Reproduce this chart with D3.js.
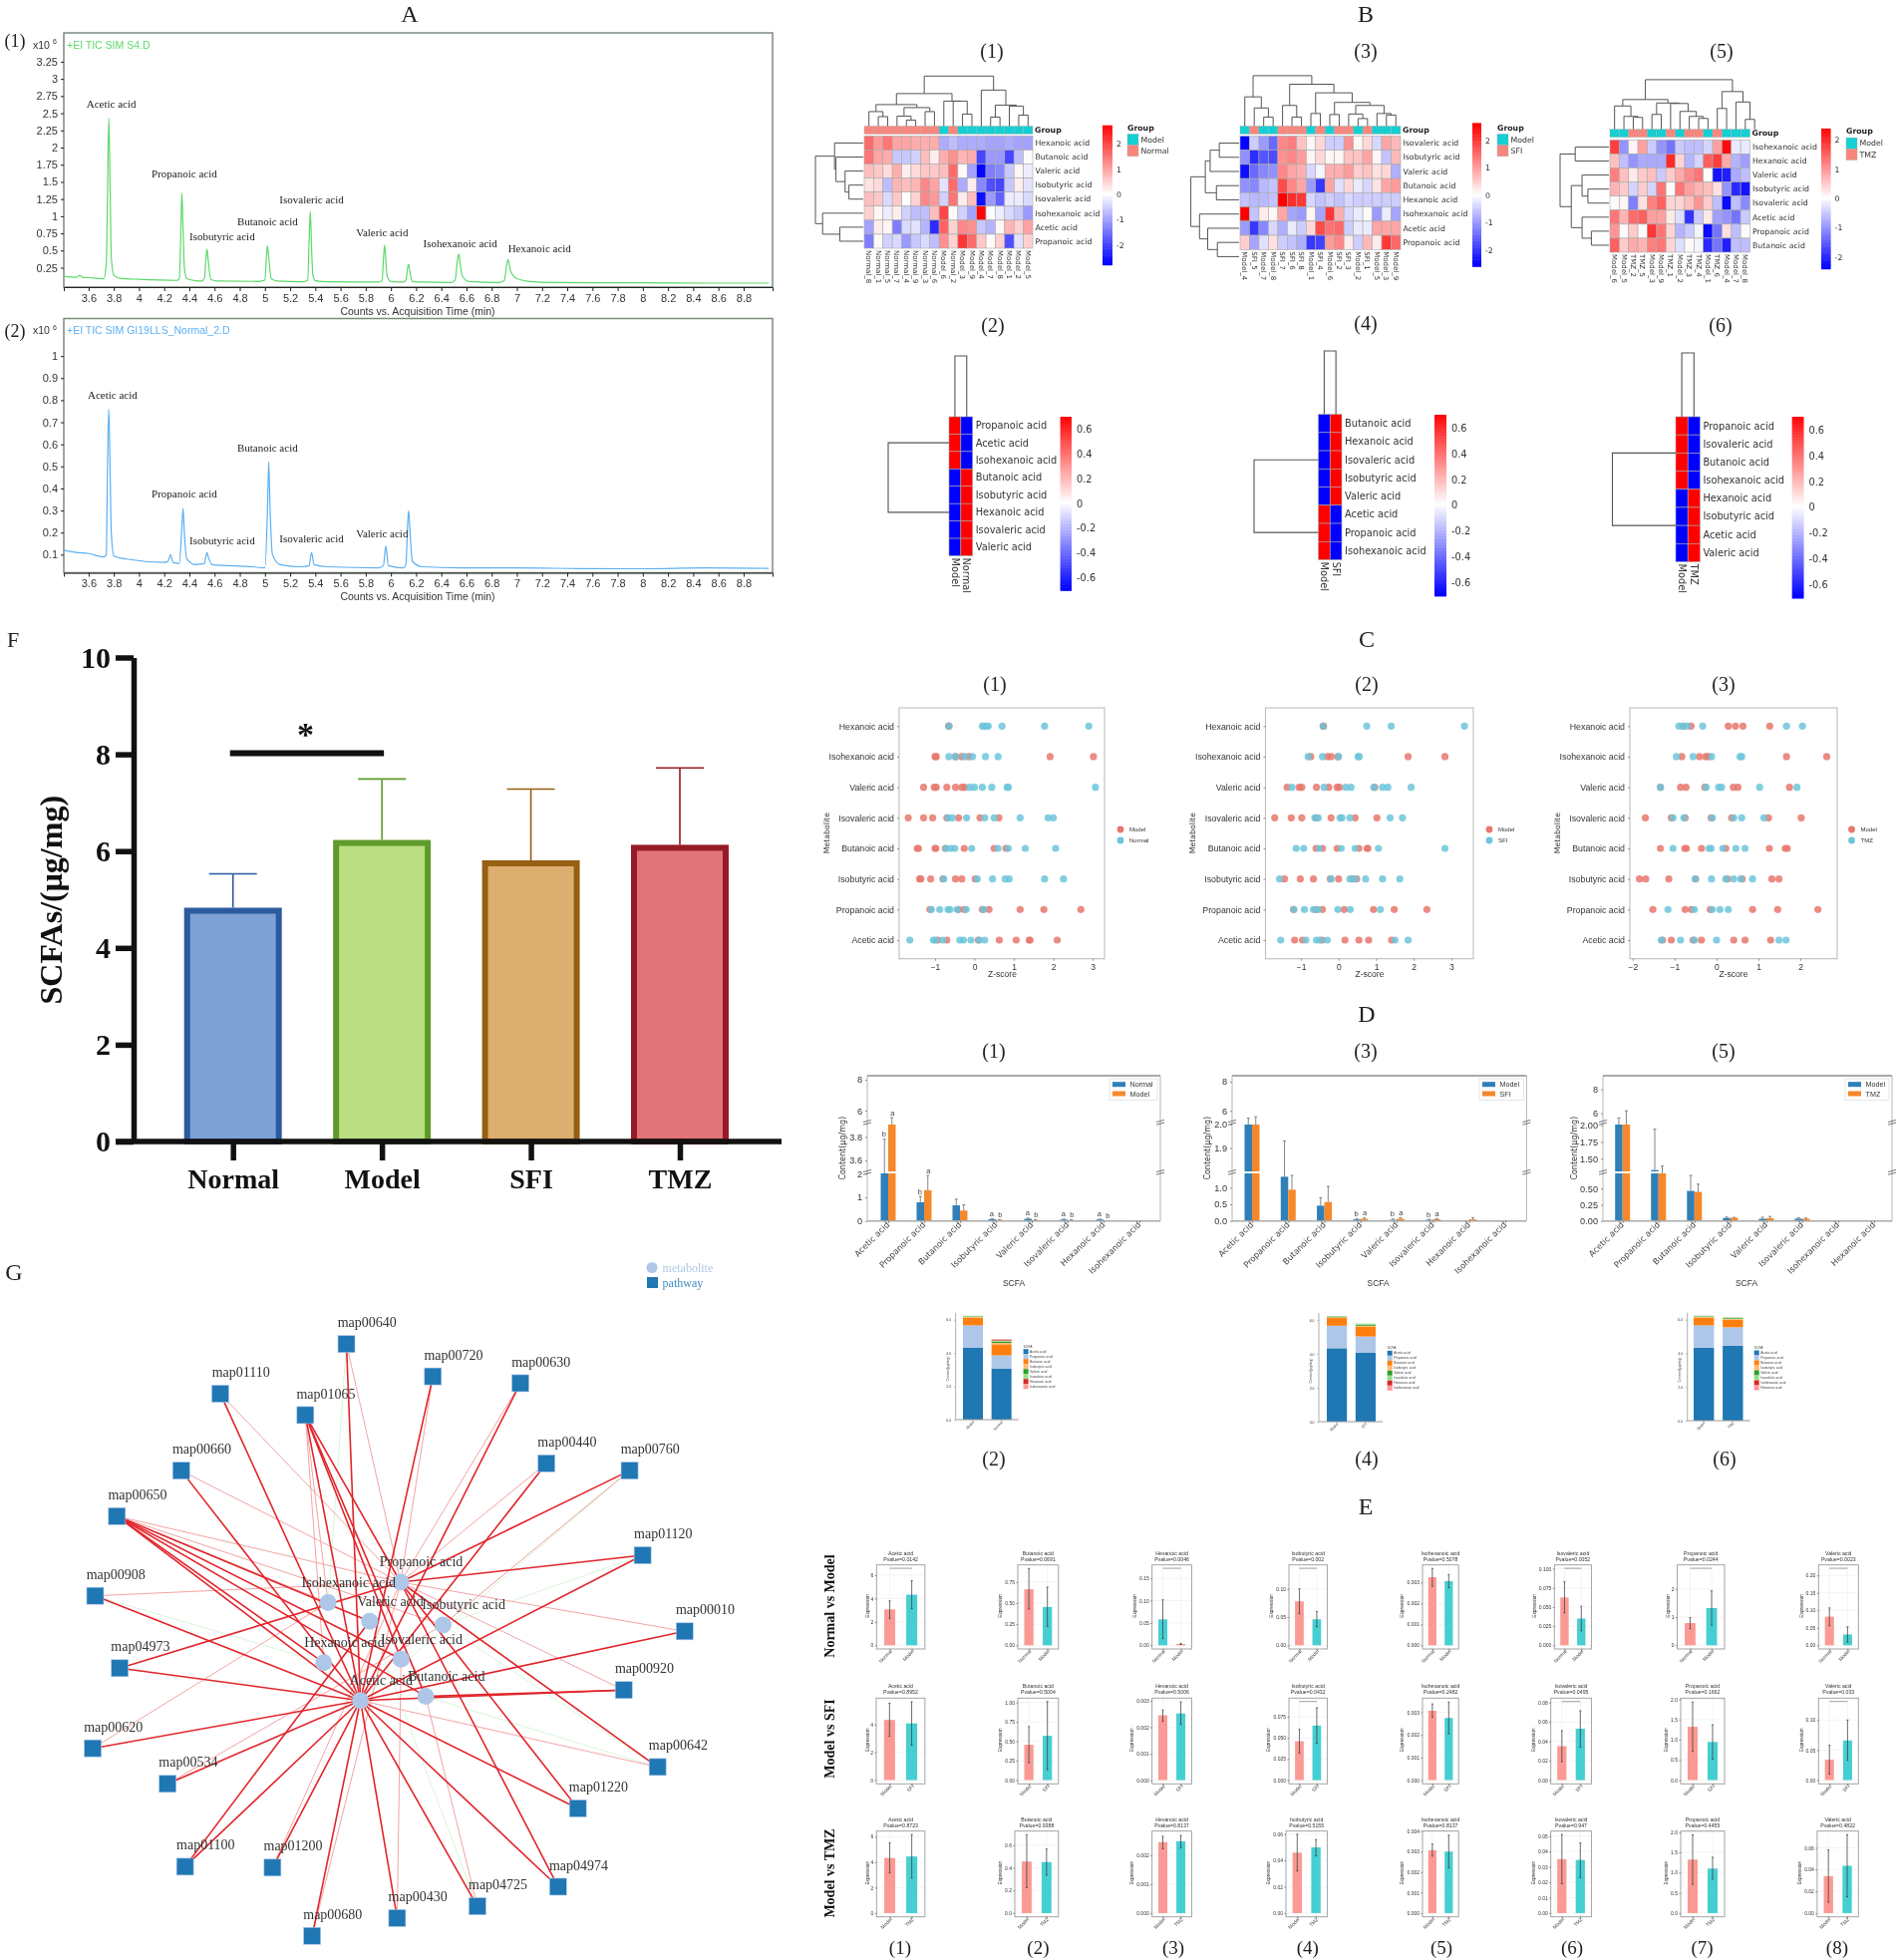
<!DOCTYPE html>
<html><head><meta charset="utf-8">
<script src="https://cdn.jsdelivr.net/npm/d3@7"></script>
<style>html,body{margin:0;background:#fff}svg{display:block;filter:blur(.4px)}</style></head>
<body><svg id="c" width="1905" height="1966" viewBox="0 0 1905 1966"></svg>
<script>
// ---------- A: chromatograms ----------
const timeA1=[3.40,3.50,3.53,3.55,3.60,3.72,3.74,3.75,3.76,3.77,3.78,3.80,3.85,4.00,4.30,4.32,4.33,4.34,4.35,4.36,4.38,4.45,4.50,4.52,4.53,4.54,4.55,4.57,4.62,4.95,5.00,5.01,5.02,5.03,5.05,5.10,5.30,5.34,5.35,5.36,5.37,5.38,5.40,5.50,5.90,5.93,5.94,5.95,5.96,5.97,6.00,6.10,6.12,6.13,6.14,6.15,6.17,6.25,6.48,6.51,6.53,6.54,6.55,6.57,6.62,6.86,6.90,6.92,6.93,6.95,7.0,7.1,7.3,7.6,8.0,8.5,9.0];
const countA1=[.125,.11,.14,.11,.105,.09,.3,1.3,2.43,1.5,.4,.14,.095,.08,.065,.09,.6,1.34,.8,.25,.09,.06,.055,.1,.35,.52,.35,.08,.055,.05,.07,.35,.57,.4,.09,.055,.045,.07,.6,1.07,.55,.15,.06,.045,.04,.06,.35,.58,.35,.13,.05,.04,.07,.22,.3,.2,.05,.04,.035,.07,.38,.45,.3,.12,.05,.035,.06,.3,.37,.2,.09,.05,.035,.03,.03,.025,.025];
const timeA2=[3.4,3.5,3.6,3.72,3.74,3.75,3.76,3.77,3.78,3.80,3.9,4.2,4.23,4.25,4.27,4.32,4.34,4.35,4.36,4.38,4.45,4.52,4.53,4.54,4.55,4.58,4.9,5.0,5.02,5.03,5.04,5.06,5.12,5.3,5.35,5.37,5.39,5.5,5.9,5.94,5.96,5.98,6.1,6.12,6.13,6.14,6.15,6.17,6.25,6.55,7,7.5,8,8.5,9];
const countA2=[.12,.11,.105,.09,.1,.5,.76,.5,.2,.095,.08,.065,.07,.1,.065,.06,.22,.31,.2,.08,.055,.06,.09,.11,.09,.055,.045,.04,.3,.52,.32,.1,.055,.045,.05,.11,.055,.045,.04,.05,.14,.05,.04,.06,.2,.3,.22,.07,.045,.04,.04,.037,.036,.04,.038];
const tickTimes=[3.6,3.8,4,4.2,4.4,4.6,4.8,5,5.2,5.4,5.6,5.8,6,6.2,6.4,6.6,6.8,7,7.2,7.4,7.6,7.8,8,8.2,8.4,8.6,8.8];
const tickCountA1=[.25,.5,.75,1,1.25,1.5,1.75,2,2.25,2.5,2.75,3,3.25];
const tickCountA2=[.1,.2,.3,.4,.5,.6,.7,.8,.9,1];
const peakNamesA1=["Acetic acid","Propanoic acid","Isobutyric acid","Butanoic acid","Isovaleric acid","Valeric acid","Isohexanoic acid","Hexanoic acid"];
const peakTimesA1=[3.78,4.36,4.66,5.02,5.37,5.93,6.55,7.18];
const peakLabelValA1=[2.64,1.62,.70,.92,1.24,.77,.61,.53];
const peakNamesA2=["Acetic acid","Propanoic acid","Isobutyric acid","Butanoic acid","Isovaleric acid","Valeric acid"];
const peakTimesA2=[3.79,4.36,4.66,5.02,5.37,5.93];
const peakLabelValA2=[.823,.377,.162,.585,.174,.198];

// ---------- B: heatmaps ----------
const hm1Rows=["Hexanoic acid","Butanoic acid","Valeric acid","Isobutyric acid","Isovaleric acid","Isohexanoic acid","Acetic acid","Propanoic acid"];
const hm1Cols=["Normal_8","Normal_1","Normal_5","Normal_7","Normal_4","Normal_9","Normal_3","Normal_6","Model_6","Normal_2","Model_3","Model_9","Model_4","Model_7","Model_8","Model_1","Model_2","Model_5"];
const hm1Vals=[
[1.6,1.1,1.5,1.0,1.0,.9,.9,.9,-.9,-.7,-.9,-.9,-.9,-1,-1,-.9,-1,-1],
[1.5,1,.9,-.6,-.6,-.5,.7,.2,.9,1.2,.8,.9,-2,-1.1,-1.1,-2,-.7,.05],
[.7,.6,.4,.9,.2,.4,.6,.6,.7,1.6,.05,-1,-2.7,-1.4,-1.3,-.6,.1,-.2],
[.3,.4,-.7,.8,.7,.8,1.3,1,-.3,1.6,-.9,.2,-1.3,-1.9,-2,-.6,.2,-.3],
[.7,.6,-.4,.6,0,.5,1.3,1.1,-.5,1.5,.2,.7,-2.6,-1.1,-1.7,-.2,-.2,-.4],
[.5,.1,-.2,.2,-.5,-.7,-.7,.7,2,.05,-.5,-1,2.7,.02,-.2,-.4,-.6,-1.1],
[-1,.2,.1,-1.4,-.4,-.3,-.8,-2.3,1.7,.5,1.3,1.2,-.6,-.8,.1,.8,.5,1],
[-1.4,.05,-.5,-.4,-1.1,-.6,-.4,-.7,1.2,.5,2.2,1.6,.6,.05,.5,-1.9,-.3,.5]];
const hm1Top=[100,[65,[43,[29,0,[19,0,0]],[37,[20,0,[12,0,0]],[29,0,0]]],[50,0,[50,0,[24,0,0]]]],[72,0,[42,[18,0,0],[40,0,[22,0,0]]]]];
const hm1Left=[100,[60,0,[57,0,[38,0,[30,0,0]]]],[85,0,[49,0,0]]];

const hm3Rows=["Isovaleric acid","Isobutyric acid","Valeric acid","Butanoic acid","Hexanoic acid","Isohexanoic acid","Acetic acid","Propanoic acid"];
const hm3Cols=["Model_4","SFI_5","Model_7","Model_8","SFI_7","SFI_6","SFI_8","Model_1","SFI_4","Model_6","SFI_2","SFI_3","Model_2","SFI_1","Model_5","Model_3","Model_9"];
const hm3Vals=[
[-2.5,-.5,-1,-1.5,1.2,1.3,.6,.1,.4,-.5,-.5,1.1,.1,.4,-.4,.9,.7],
[-1.1,-2.1,-1.7,-1.8,1.1,1.2,1,.1,.4,.1,.1,.6,.6,.9,.1,-.6,.7],
[-2.4,-1.5,-1.2,-1.1,1.2,.9,.8,-.4,-.1,.8,.8,1,.5,.6,.3,.4,-.8],
[-1.1,-1.2,-.7,-.6,1.8,1.2,.9,-1,-2,.9,-.3,.4,-.2,-.4,.3,.9,1],
[-.6,-.7,-.7,-.6,2.6,2.1,2,-.4,-.6,-.5,-.6,-.4,-.5,-.5,-.5,-.5,-.5],
[2.6,-.6,.2,.1,.9,-.9,-1,.1,-.9,2,.8,-.4,-.2,.05,-1,-.2,-.9],
[-1,-2,-1.2,-.4,-.8,-.2,-.5,.4,1.8,1.4,1.5,-.5,-.2,-.2,.9,.9,.9],
[.5,-.9,-.3,.3,-.5,-.6,-.8,-2,-1.9,1,1.2,.2,-.5,.7,.2,2,1.5]];
const hm3Top=[100,[58,0,[36,0,[18,0,0]]],[83,[41,0,[18,0,0]],[66,[25,0,0],[47,[23,0,0],[41,[24,0,[15,0,0]],[25,0,[22,0,0]]]]]]];
const hm3Left=[100,[70,[60,[41,0,0],0],[47,0,0]],[82,0,[65,0,[45,0,0]]]];

const hm5Rows=["Isohexanoic acid","Hexanoic acid","Valeric acid","Isobutyric acid","Isovaleric acid","Acetic acid","Propanoic acid","Butanoic acid"];
const hm5Cols=["Model_6","Model_5","TMZ_2","TMZ_5","Model_3","Model_9","TMZ_1","Model_2","TMZ_3","TMZ_4","Model_1","TMZ_6","Model_4","Model_7","Model_8"];
const hm5Vals=[
[1.8,-1,.1,.9,-.5,-1,-1.3,-.5,-.6,-.6,-.4,.9,2.3,-.2,-.2],
[.6,-.6,-1,-.8,-.8,-.8,2,.4,-.7,-.4,1.5,1.8,.8,-.7,-.9],
[1.2,.6,.2,.5,.6,-.5,.5,.8,1.1,1.3,.02,-2.2,-2.1,-.8,-.6],
[.7,.5,-.4,.5,-.4,1.3,.05,1.3,.9,.7,.6,.3,-1,-2,-2.2],
[.05,.1,-1.2,.3,1.2,1.5,.4,.4,.6,1,.5,-.6,-2.3,-.6,-1.1],
[1.3,.7,1.4,1.5,.9,.9,.2,-.3,-1.9,-.5,.2,-.9,-1,-1.3,-.5],
[1,.05,.5,.05,1.9,1.3,.4,-.7,-.5,-.1,-2.3,-1.3,.3,-.6,.05],
[1.5,.5,.8,.7,1.2,1.3,.4,-.3,.05,-.1,-2,-1.3,-2.1,-.6,-.6]];
const hm5Top=[100,[60,[47,0,[26,0,[24,0,0]]],[53,[30,0,0],[52,0,[36,0,[26,0,[22,0,0]]]]]],[76,[42,0,0],[55,0,[20,0,0]]]];
const hm5Left=[100,[69,0,0],[77,[55,0,[43,0,0]],[55,0,[36,0,0]]]];

const hm2Rows=["Propanoic acid","Acetic acid","Isohexanoic acid","Butanoic acid","Isobutyric acid","Hexanoic acid","Isovaleric acid","Valeric acid"];
const hm2Sign=[1,1,1,-1,-1,-1,-1,-1];
const hm4Rows=["Butanoic acid","Hexanoic acid","Isovaleric acid","Isobutyric acid","Valeric acid","Acetic acid","Propanoic acid","Isohexanoic acid"];
const hm4Sign=[-1,-1,-1,-1,-1,1,1,1];
const hm6Rows=["Propanoic acid","Isovaleric acid","Butanoic acid","Isohexanoic acid","Hexanoic acid","Isobutyric acid","Acetic acid","Valeric acid"];
const hm6Sign=[1,1,1,1,-1,-1,-1,-1];
const groupAmp=.707;
const smallTicks=[.6,.4,.2,0,-.2,-.4,-.6];
const bigTicks=[2,1,0,-1,-2];

// ---------- C: dot plots ----------
const metaOrder=["Hexanoic acid","Isohexanoic acid","Valeric acid","Isovaleric acid","Butanoic acid","Isobutyric acid","Propanoic acid","Acetic acid"];
const c1Model=[[-.65,-.65],[-1,-.97,-.48,-.32,-.14,1.92,3.02],[-1.29,-1.02,-.97,-.7,-.48,-.32,-.25],[-1.68,-1.29,-1.06,-.7,-.4,.14,.62],[-1.45,-1.42,-1,-.98,-.74,-.26,.5,.8],[-1.39,-1.36,-1.11,-.8,-.48,-.32,.02],[-1.13,-.4,-.26,.2,.37,1.16,1.76,2.7],[-.93,-.7,.1,.63,1.06,1.39,1.41,2.1]];
const c1Other=[[-.65,.2,.25,.3,.35,.7,1.78,2.9],[-.65,-.48,-.25,-.05,.28,.6],[-.12,0,.2,.44,.83,.86,3.07],[-.67,-.56,-.2,.26,.5,1.16,1.87,2],[-.72,-.6,-.5,-.07,.6,.86,1.29,2.06],[-.78,.07,.46,.78,.88,1.78,2.26],[-1.09,-.88,-.67,-.62,-.44,-.21,.23],[-1.64,-1.04,-.99,-.8,-.37,-.28,-.09,.12,.26]];
const c2Model=[[-.41,-.4],[-.74,-.3,-.2,-.02,1.85,2.83],[-1.37,-1.05,-.98,-.59,-.26,-.04,.02,.96],[-1.7,-1.26,-.98,-.6,-.2,.44,1.02],[-.6,-.43,-.04,.54,.76,.78],[-1.44,-1.02,-.67,-.22,0,.37,.48],[-1.2,-.61,-.43,.15,.93,1.48,2.35],[-1.17,-.96,-.44,.17,.54,.8,1.41]];
const c2Other=[[-.41,.75,1.4,3.35],[-.81,-.43,0,.52,.55],[-1.24,-.39,.19,.33,.94,1.17,1.31,1.93],[-.63,-.54,.04,.09,.3,1.37,1.7],[-1.13,-.93,-.52,.07,.44,1.06,2.83],[-1.57,-.2,.3,.44,.72,1.17,1.63],[-1.19,-.91,-.67,-.54,-.02,.31,1.11],[-1.54,-.87,-.59,-.5,-.3,1.5,1.85]];
const c3Model=[[-.8,-.61,.28,.45,.63,1.27],[-.83,-.41,-.26,-.2,1.67,2.63],[-1.34,-.86,-.73,-.28,.4,.51,1.74],[-1.7,-1.08,-.75,-.13,.36,1.24,2.02],[-1.34,-.76,-.72,-.36,.22,1.26,1.64,1.69],[-1.84,-1.69,-1.14,-.5,.26,.61,1.32,1.49],[-1.52,-.75,-.6,-.15,.86,1.46,2.42],[-1.29,-1.08,-.56,-.36,.41,.68,1.29]];
const c3Other=[[-.9,-.8,-.7,-.33,1.67,2.05],[-.96,-.56,-.12,.56,.6],[-1.34,-.25,.05,.12,1.03,1.92],[-1.04,-.78,-.1,.41,.6,1.13],[-1.04,-.18,-.13,.15,.46,.68],[-.51,-.12,.22,.41,.58,.86],[-1.16,-.53,-.1,.08,.28],[-1.32,-.86,-.53,0,1.49,1.66]];
const zTicksC1=[-1,0,1,2,3], zTicksC3=[-2,-1,0,1,2];

// ---------- D: content bars ----------
const d1Names=["Acetic acid","Propanoic acid","Butanoic acid","Isobutyric acid","Valeric acid","Isovaleric acid","Hexanoic acid","Isohexanoic acid"];
const d5Names=["Acetic acid","Propanoic acid","Butanoic acid","Isobutyric acid","Valeric acid","Isovaleric acid","Isohexanoic acid","Hexanoic acid"];
const d1A=[3.07,.79,.66,.07,.09,.06,.06,0], d1B=[4.33,1.3,.44,.04,.04,.03,.004,0];
const d1AErr=[3.78,1.04,.92,.1,.12,.08,.08,0], d1BErr=[5.55,1.92,.68,.06,.06,.05,.01,0];
const d1ALet=["b","b","","a","a","a","a",""], d1BLet=["a","a","","b","b","b","b",""];
const d3A=[4.33,1.33,.46,.046,.033,.035,0,0], d3B=[4.08,.94,.57,.064,.066,.052,.05,0];
const d3AErr=[5.5,1.93,.7,.06,.057,.05,0,0], d3BErr=[5.6,1.37,1.04,.09,.1,.07,.1,0];
const d3ALet=["","","","b","b","b","",""], d3BLet=["","","","a","a","a","",""];
const d5A=[4.33,1.33,.465,.046,.033,.035,.003,.0025], d5B=[4.45,1.1,.45,.05,.043,.034,.003,.0025];
const d5AErr=[5.6,1.94,.705,.06,.057,.05,.004,.003], d5BErr=[6.2,1.39,.57,.056,.07,.045,.004,.003];
const stackKeys=d1Names;
const stackD5Keys=d5Names;
const stackColors=["#1f77b4","#aec7e8","#ff7f0e","#ffbb78","#2ca02c","#98df8a","#d62728","#ff9896"];
const stackModel=[4.33,1.33,.455,.046,.033,.035,.0024,.003];
const stackNormal=[3.07,.79,.665,.078,.082,.0625,.058,.00325];
const stackSFI=[4.08,.945,.57,.0645,.066,.053,.0025,.00275];
const stackTMZ=[4.45,1.1,.45,.05,.0435,.0345,.0025,.003];

// ---------- E: pairwise bars ----------
const eNames=["Acetic acid","Butanoic acid","Hexanoic acid","Isobutyric acid","Isohexanoic acid","Isovaleric acid","Propanoic acid","Valeric acid"];
// mean1, low1, high1, mean2, low2, high2, axis top
const eRow1=[[3.07,2.3,3.8,4.33,3.13,5.53,6.88],[.665,.43,.91,.455,.225,.69,.953],[.058,.015,.102,.003,.002,.004,.18],[.078,.056,.1,.046,.033,.06,.1424],[.00325,.00282,.00367,.00307,.00275,.00338,.00384],[.0625,.0425,.083,.035,.019,.051,.105],[.79,.59,.98,1.32,.71,1.93,2.85],[.082,.056,.107,.031,.009,.053,.23]];
const eRow2=[[4.33,3.15,5.53,4.08,2.5,5.63,5.9],[.455,.225,.69,.57,.135,1.01,1.055],[.00245,.00222,.00265,.00252,.0021,.00295,.0031],[.046,.032,.06,.0645,.0435,.0855,.097],[.00307,.00278,.00337,.00275,.00205,.00345,.00363],[.035,.019,.051,.053,.034,.0715,.0845],[1.32,.71,1.93,.945,.52,1.37,2.03],[.034,.01,.058,.066,.033,.1,.1365]];
const eRow3=[[4.33,3.15,5.53,4.45,2.75,6.17,6.44],[.455,.225,.69,.45,.335,.565,.7235],[.00245,.00222,.00265,.00248,.00225,.00268,.00283],[.046,.032,.06,.05,.0435,.056,.0624],[.00307,.00278,.00337,.003,.0022,.0038,.004],[.035,.019,.051,.0345,.023,.0455,.0532],[1.32,.71,1.93,1.1,.84,1.38,2.025],[.034,.01,.058,.0435,.015,.072,.0753]];
const eP=[["0.0142","0.0691","0.0046","0.002","0.5078","0.0052","0.0244","0.0023"],["0.8952","0.5004","0.5006","0.0432","0.2482","0.0495","0.1662","0.033"],["0.8723","0.9388","0.8137","0.5155","0.8137","0.947","0.4455","0.4822"]];
const eTicks=[
[[0,2,4,6],[0,.25,.5,.75],[0,.05,.1,.15],[0,.05,.1],[0,.001,.002,.003],[0,.025,.05,.075,.1],[0,1,2],[0,.05,.1,.15,.2]],
[[0,2,4],[0,.25,.5,.75,1],[0,.001,.002,.003],[0,.025,.05,.075],[0,.001,.002,.003],[0,.02,.04,.06,.08],[0,.5,1,1.5,2],[0,.05,.1]],
[[0,2,4,6],[0,.2,.4,.6],[0,.001,.002],[0,.02,.04,.06],[0,.001,.002,.003,.004],[0,.01,.02,.03,.04,.05],[0,.5,1,1.5,2],[0,.02,.04,.06]]];
const eGroups=[["Normal","Model"],["Model","SFI"],["Model","TMZ"]];
const eRowTitles=["Normal vs Model","Model vs SFI","Model vs TMZ"];
const eSwapped=[[2,0]]; // column, row where colours are reversed

// ---------- F: total SCFA ----------
const fGroups=["Normal","Model","SFI","TMZ"];
const fMeans=[4.83,6.23,5.81,6.13];
const fUpper=[5.53,7.49,7.28,7.72];
const fFill=["#7ea1d6","#bbde83","#dcae6f","#e0747a"];
const fEdge=["#2b5a9e","#5e9b2b","#955f14","#951b25"];
const fTicks=[0,2,4,6,8,10];

// ---------- G: network (layout units) ----------
const pathways=["map00640","map00720","map00630","map01110","map01065","map00440","map00760","map00660","map00650","map01120","map00908","map00010","map04973","map00920","map00620","map00642","map00534","map01220","map01100","map01200","map04974","map04725","map00430","map00680"];
const pathwayLayoutX=[717,896,1077,456,632,1131,1303,375,242,1330,197,1417,248,1291,192,1361,347,1196,383,564,1155,988,822,646];
const pathwayLayoutY=[215,286,301,324,371,477,493,493,593,679,768,846,927,975,1103,1144,1181,1235,1363,1365,1407,1450,1476,1515];
const metabolites=["Propanoic acid","Isohexanoic acid","Valeric acid","Isobutyric acid","Isovaleric acid","Hexanoic acid","Butanoic acid","Acetic acid"];
const metaLayoutX=[829,679,765,917,830,670,881,746];
const metaLayoutY=[738,783,824,832,907,915,989,998];
const acetStrong=["map00640","map00720","map00630","map00440","map01120","map00010","map00920","map01110","map01065","map00660","map00650","map00908","map04973","map00620","map00534","map01100","map01200","map00680","map00430","map04725","map04974","map01220"];
const propStrong=["map00760","map01120","map00642","map04973","map01065","map04974","map01220"];
const propLight=["map00010","map00908","map00650","map00660","map01110","map00640","map00720","map00630","map00440","map00920","map01200","map00680"];
const otherStrong=[["Butanoic acid","map00650"],["Butanoic acid","map00920"],["Butanoic acid","map01065"],["Valeric acid","map01100"],["Valeric acid","map00650"],["Isovaleric acid","map00650"],["Isovaleric acid","map01065"],["Hexanoic acid","map00650"]];
const otherLight=[["Acetic acid","map00642"],["Butanoic acid","map04725"],["Isovaleric acid","map00430"],["Hexanoic acid","map01065"],["Isohexanoic acid","map01065"],["Isohexanoic acid","map00650"],["Isohexanoic acid","map00620"],["Isobutyric acid","map00760"],["Isobutyric acid","map00534"],["Isobutyric acid","map00650"]];
const faintEdges=[["Isohexanoic acid","map00640"],["Isobutyric acid","map00642"],["Propanoic acid","map00642"],["Butanoic acid","map00642"],["Isobutyric acid","map01120"],["Isobutyric acid","map00760"],["Acetic acid","map00760"],["Hexanoic acid","map00908"],["Valeric acid","map04725"]];

// ---------- helpers ----------
const svg=d3.select("#c");
const SERIF="'Liberation Serif',serif", SANS="'Liberation Sans',sans-serif", DEJA="'DejaVu Sans',sans-serif";
function T(x,y,s,o={}){const t=(o.g||svg).append("text").attr("x",x).attr("y",y).attr("dy",".35em").text(s)
 .attr("font-family",o.font||SERIF).attr("font-size",o.size||20).attr("fill",o.fill||"#222")
 .attr("text-anchor",o.anchor||"middle").attr("font-weight",o.weight||"normal");
 if(o.rot!=null)t.attr("transform",`rotate(${o.rot} ${x} ${y})`);return t;}
function styleAxis(g,o={}){g.selectAll("text").attr("font-family",o.font||SANS).attr("font-size",o.size||9).attr("fill",o.fill||"#333").attr("font-weight",o.weight||"normal");
 g.selectAll("line").attr("stroke",o.stroke||"#555").attr("stroke-width",o.sw||.8);
 g.select(".domain").attr("stroke",o.stroke||"#555").attr("stroke-width",o.dw||o.sw||.8);if(o.noDomain)g.select(".domain").remove();}

// panel letters and sub-labels
[["A",411,14],["B",1370,14],["C",1371,641],["D",1371,1017],["E",1370,1511]].forEach(d=>T(d[1],d[2],d[0],{size:24}));
T(13,641,"F",{size:22});T(14,1276,"G",{size:24});
[["(1)",15,41],["(2)",15,332]].forEach(d=>T(d[1],d[2],d[0],{size:18}));
[["(1)",995,51],["(3)",1370,51],["(5)",1727,51],["(2)",996,326],["(4)",1370,324],["(6)",1726,326],
 ["(1)",998,686],["(2)",1371,686],["(3)",1729,686],["(1)",997,1054],["(3)",1370,1054],["(5)",1729,1054],
 ["(2)",997,1463],["(4)",1371,1463],["(6)",1730,1463]].forEach(d=>T(d[1],d[2],d[0],{size:20}));

// ---------- A ----------
function chrom(time,count,cfg){
 const x=d3.scaleLinear().domain([3.403,9.03]).range([64,775]);
 const y=d3.scaleLinear().domain(cfg.dom).range([cfg.y1,cfg.y0]);
 svg.append("rect").attr("x",64).attr("y",cfg.y0).attr("width",711).attr("height",cfg.y1-cfg.y0).attr("fill","#fff").attr("stroke","#7d8b7d").attr("stroke-width",1.5);
 svg.append("g").attr("transform",`translate(0,${cfg.y1})`).call(d3.axisBottom(x).tickValues(tickTimes).tickSize(4).tickFormat(d=>String(+d.toFixed(1)))).call(g=>styleAxis(g,{size:11,stroke:"#222",sw:1}));
 svg.append("g").attr("transform","translate(64,0)").call(d3.axisLeft(y).tickValues(cfg.ticks).tickSize(3).tickFormat(d=>String(+d.toFixed(2)))).call(g=>styleAxis(g,{size:11,stroke:"#222",sw:1,noDomain:true}));
 svg.append("path").attr("d",d3.line().x((d,i)=>x(time[i])).y(d=>y(d)).curve(d3.curveMonotoneX)(count)).attr("fill","none").attr("stroke",cfg.color).attr("stroke-width",1.2);
 cfg.names.forEach((n,i)=>T(x(cfg.lt[i]),y(cfg.lv[i]),n,{size:11,fill:"#222"}));
 T(67,cfg.y0+12,cfg.title,{anchor:"start",font:SANS,size:10.5,fill:cfg.color});
 T(33,cfg.y0+12,"x10",{anchor:"start",font:SANS,size:10.5,fill:"#333"});
 T(53,cfg.y0+9,"6",{anchor:"start",font:SANS,size:7,fill:"#333"});
 T(419,cfg.y1+24,"Counts vs. Acquisition Time (min)",{font:SANS,size:10.5,fill:"#333"});
}
chrom(timeA1,countA1,{y0:33,y1:288,dom:[-.033,3.67],ticks:tickCountA1,color:"#5cd96a",title:"+EI TIC SIM S4.D",names:peakNamesA1,lt:peakTimesA1,lv:peakLabelValA1});
chrom(timeA2,countA2,{y0:319.5,y1:574.5,dom:[.018,1.17],ticks:tickCountA2,color:"#5cb0f2",title:"+EI TIC SIM GI19LLS_Normal_2.D",names:peakNamesA2,lt:peakTimesA2,lv:peakLabelValA2});

// ---------- B ----------
function redBlue(m){return d3.scaleLinear().domain([-m,0,m]).range(["#0000ff","#ffffff","#ff0000"]);}
function dendro(tree,leafPos,val,horizontal){
 let idx=0;let paths=[];
 (function walk(n){if(!n){return {p:leafPos(idx++),h:0};}
  const a=walk(n[1]),b=walk(n[2]);
  const A=val(a.h),B=val(b.h),H=val(n[0]);
  paths.push(horizontal?`M${A},${a.p}H${H}V${b.p}H${B}`:`M${a.p},${A}V${H}H${b.p}V${B}`);
  return {p:(a.p+b.p)/2,h:n[0]};})(tree);
 svg.append("g").selectAll("path").data(paths).join("path").attr("d",d=>d).attr("fill","none").attr("stroke","#555").attr("stroke-width",1);
}
function colorbar(x0,x1,y0,y1,lo,hi,ticks,labelX,fmtSize,color){
 const y=d3.scaleLinear().domain([lo,hi]).range([y1,y0]);
 const steps=d3.range(lo,hi,(hi-lo)/60);
 svg.append("g").selectAll("rect").data(steps).join("rect").attr("x",x0).attr("width",x1-x0).attr("y",d=>y(d+(hi-lo)/60)).attr("height",(y1-y0)/60+.5).attr("fill",d=>color(d));
 svg.append("g").selectAll("text").data(ticks).join("text").attr("x",labelX).attr("y",d=>y(d)).attr("dy",".35em").text(d=>d).attr("font-family",DEJA).attr("font-size",fmtSize).attr("fill","#333");
}
function bigHeat(c){
 const x=d3.scaleBand().domain(c.cols).range([c.x0,c.x1]);
 const y=d3.scaleBand().domain(c.rows).range([c.y0,c.y1]);
 const col=redBlue(c.m);
 svg.append("g").selectAll("rect").data(c.vals.flatMap((r,i)=>r.map((v,j)=>({v,r:c.rows[i],c:c.cols[j]})))).join("rect")
  .attr("x",d=>x(d.c)).attr("y",d=>y(d.r)).attr("width",x.bandwidth()).attr("height",y.bandwidth()).attr("fill",d=>col(d.v)).attr("stroke","#a9a9a9").attr("stroke-width",.6);
 svg.append("g").selectAll("rect").data(c.cols).join("rect").attr("x",d=>x(d)).attr("y",c.ay0).attr("width",x.bandwidth()).attr("height",c.ay1-c.ay0)
  .attr("fill",d=>d.startsWith("Model")?"#14cfd3":"#f8867d").attr("stroke","#a9a9a9").attr("stroke-width",.4);
 T(c.x1+2,(c.ay0+c.ay1)/2,"Group",{anchor:"start",font:DEJA,size:7.8,weight:"bold"});
 c.rows.forEach(r=>T(c.x1+2.5,y(r)+y.bandwidth()/2,r,{anchor:"start",font:DEJA,size:7.8,fill:"#333"}));
 c.cols.forEach(k=>T(x(k)+x.bandwidth()/2,c.y1+2,k,{anchor:"start",font:DEJA,size:7,fill:"#333",rot:90}));
 dendro(c.top,i=>c.x0+x.bandwidth()*(i+.5),d3.scaleLinear().domain([0,100]).range([c.ay0,c.dt]),false);
 dendro(c.left,i=>c.y0+y.bandwidth()*(i+.5),d3.scaleLinear().domain([0,100]).range([c.x0-1,c.dl]),true);
 colorbar(c.bx0,c.bx1,c.by0,c.by1,c.blo,c.bhi,bigTicks,c.bx1+4,7.8,col);
 T(c.lx,c.ly,"Group",{anchor:"start",font:DEJA,size:7.8,weight:"bold"});
 [["Model","#14cfd3"],[c.other,"#f8867d"]].forEach((d,i)=>{svg.append("rect").attr("x",c.lx).attr("y",c.ly+6.4+11.2*i).attr("width",11).attr("height",11.2).attr("fill",d[1]).attr("stroke","#a9a9a9").attr("stroke-width",.4);
  T(c.lx+13.5,c.ly+12+11.2*i,d[0],{anchor:"start",font:DEJA,size:7.8,fill:"#333"});});
}
bigHeat({rows:hm1Rows,cols:hm1Cols,vals:hm1Vals,top:hm1Top,left:hm1Left,x0:867,x1:1036,y0:136.4,y1:249,ay0:126.5,ay1:134.4,dt:76.3,dl:818,m:2.76,bx0:1106,bx1:1116,by0:125.7,by1:265.7,blo:-2.78,bhi:2.75,lx:1131,ly:128,other:"Normal"});
bigHeat({rows:hm3Rows,cols:hm3Cols,vals:hm3Vals,top:hm3Top,left:hm3Left,x0:1244,x1:1405,y0:136.4,y1:250.3,ay0:126.5,ay1:134.4,dt:75.9,dl:1194.6,m:2.55,bx0:1477,bx1:1486,by0:125.7,by1:267.3,blo:-2.58,bhi:2.55,lx:1502,ly:128,other:"SFI"});
bigHeat({rows:hm5Rows,cols:hm5Cols,vals:hm5Vals,top:hm5Top,left:hm5Left,x0:1615,x1:1755.5,y0:140.4,y1:253,ay0:129.7,ay1:137.6,dt:79.9,dl:1565,m:2.39,bx0:1827,bx1:1836.6,by0:128.9,by1:269.7,blo:-2.39,bhi:2.39,lx:1852,ly:131.7,other:"TMZ"});

function smallHeat(c){
 const y=d3.scaleBand().domain(c.rows).range([c.y0,c.y1]);
 const x=d3.scaleBand().domain(c.groups).range([c.x0,c.x1]);
 const col=redBlue(groupAmp);
 c.groups.forEach((g,j)=>svg.append("g").selectAll("rect").data(c.sign).join("rect").attr("x",x(g)).attr("y",(d,i)=>y(c.rows[i])).attr("width",x.bandwidth()).attr("height",y.bandwidth())
   .attr("fill",d=>col((j?-d:d)*groupAmp)).attr("stroke","#a9a9a9").attr("stroke-width",.6));
 c.rows.forEach(r=>T(c.x1+3,y(r)+y.bandwidth()/2,r,{anchor:"start",font:DEJA,size:9.8,fill:"#333"}));
 c.groups.forEach(g=>T(x(g)+x.bandwidth()/2,c.y1+2,g,{anchor:"start",font:DEJA,size:9.8,fill:"#333",rot:90}));
 const cx=c.groups.map(g=>x(g)+x.bandwidth()/2);
 svg.append("path").attr("d",`M${cx[0]},${c.y0}V${c.dt}H${cx[1]}V${c.y0}`).attr("fill","none").attr("stroke","#555").attr("stroke-width",1.1);
 const s=c.sign.findIndex(d=>d!==c.sign[0]);
 const ya=y(c.rows[0])+y.bandwidth()*s/2, yb=y(c.rows[s])+y.bandwidth()*(8-s)/2;
 svg.append("path").attr("d",`M${c.x0},${ya}H${c.dl}V${yb}H${c.x0}`).attr("fill","none").attr("stroke","#555").attr("stroke-width",1.1);
 colorbar(c.bx0,c.bx1,c.by0,c.by1,-.704,.704,smallTicks,c.bx1+5,9.8,col);
}
smallHeat({rows:hm2Rows,sign:hm2Sign,groups:["Model","Normal"],x0:952,x1:975.7,y0:418,y1:557.5,dt:357,dl:891,bx0:1063.6,bx1:1075,by0:418,by1:592.3});
smallHeat({rows:hm4Rows,sign:hm4Sign,groups:["Model","SFI"],x0:1322.5,x1:1346,y0:415.6,y1:561.5,dt:352,dl:1258,bx0:1439,bx1:1451,by0:416,by1:597.9});
smallHeat({rows:hm6Rows,sign:hm6Sign,groups:["Model","TMZ"],x0:1681,x1:1705.4,y0:418,y1:563.5,dt:354,dl:1617.5,bx0:1797.7,bx1:1809.5,by0:418,by1:600});

// ---------- C ----------
function dotPlot(c){
 const x=d3.scaleLinear().domain(c.dom).range([c.x0,c.x1]);
 const y=d3.scalePoint().domain(metaOrder).range([728.3,943]);
 svg.append("rect").attr("x",c.x0).attr("y",710).attr("width",c.x1-c.x0).attr("height",251.7).attr("fill","#fff").attr("stroke","#bdbdbd").attr("stroke-width",1.1);
 svg.append("g").attr("transform","translate(0,961.7)").call(d3.axisBottom(x).tickValues(c.ticks).tickSize(2).tickFormat(d3.format("d"))).call(g=>styleAxis(g,{size:8.5,stroke:"#777",noDomain:true}));
 svg.append("g").attr("transform",`translate(${c.x0},0)`).call(d3.axisLeft(y).tickSize(2)).call(g=>styleAxis(g,{size:8.8,stroke:"#777",noDomain:true}));
 [[c.model,"#e8776c"],[c.other,"#6cc6db"]].forEach(s=>{
  svg.append("g").selectAll("circle").data(s[0].flatMap((r,i)=>r.map(v=>({v,m:metaOrder[i]})))).join("circle").attr("cx",d=>x(d.v)).attr("cy",d=>y(d.m)).attr("r",3.6).attr("fill",s[1]).attr("opacity",.85);});
 T(c.xl,977,"Z-score",{font:SANS,size:8.5,fill:"#333"});
 T(c.ml,835.7,"Metabolite",{font:DEJA,size:7.8,fill:"#333",rot:-90});
 [["Model","#e8776c",832],[c.name,"#6cc6db",843]].forEach(d=>{svg.append("circle").attr("cx",c.leg).attr("cy",d[2]).attr("r",3.4).attr("fill",d[1]);T(c.leg+9,d[2],d[0],{anchor:"start",font:SANS,size:6,fill:"#333"});});
}
dotPlot({x0:902,x1:1108,dom:[-1.91,3.3],ticks:zTicksC1,model:c1Model,other:c1Other,xl:1005.5,ml:829,leg:1124,name:"Normal"});
dotPlot({x0:1269.5,x1:1478,dom:[-1.945,3.586],ticks:zTicksC1,model:c2Model,other:c2Other,xl:1374,ml:1196,leg:1494,name:"SFI"});
dotPlot({x0:1635,x1:1843,dom:[-2.07,2.88],ticks:zTicksC3,model:c3Model,other:c3Other,xl:1739,ml:1562,leg:1857.5,name:"TMZ"});

// ---------- D ----------
function brokenBars(c){
 const B=1224.7;
 const segs=[{min:0,max:c.low[0],s:d3.scaleLinear().domain([0,c.low[0]]).range([B,1177])},
  {min:c.mid[0],max:c.mid[1],s:d3.scaleLinear().domain(c.mid).range([1175,1128])},
  {min:c.top[0],max:c.top[1],s:d3.scaleLinear().domain(c.top).range([1126,1079])}];
 const pos=v=>{for(let i=2;i>=0;i--){if(v>=segs[i].min)return segs[i].s(Math.min(v,segs[i].max));}return B;};
 const x=d3.scalePoint().domain(c.names).range(c.xr);
 svg.append("path").attr("d",`M${c.x0},${B}V1079H${c.x1}V${B}`).attr("fill","none").attr("stroke","#b5b5b5").attr("stroke-width",1);
 svg.append("path").attr("d",`M${c.x0},1079H${c.x1}`).attr("stroke","#aaa").attr("stroke-width",2);
 [[c.a,c.aErr,c.aLet,"#2f7fb8",-1],[c.b,c.bErr,c.bLet,"#f5882a",1]].forEach(s=>{
  const pts=c.names.map((n,i)=>({n,v:s[0][i],e:s[1][i],l:s[2]?s[2][i]:""}));
  segs.forEach(g=>{svg.append("g").selectAll("rect").data(pts.filter(p=>p.v>g.min)).join("rect")
    .attr("x",p=>x(p.n)+(s[4]<0?-7.5:0)).attr("width",7.5).attr("y",p=>g.s(Math.min(p.v,g.max))).attr("height",p=>g.s(g.min)-g.s(Math.min(p.v,g.max))).attr("fill",s[3]);});
  const cx=p=>x(p.n)+s[4]*3.75;
  svg.append("g").selectAll("path").data(pts.filter(p=>p.e>0)).join("path").attr("d",p=>`M${cx(p)},${pos(p.v)}V${pos(p.e)}M${cx(p)-1.5},${pos(p.e)}h3`).attr("stroke","#777").attr("stroke-width",.9).attr("fill","none");
  pts.filter(p=>p.l).forEach(p=>T(cx(p)+(s[4]<0?-.5:.5),pos(p.e)-5,p.l,{font:SANS,size:7.5,fill:"#444"}));
 });
 [[1,segs[0]],[2,segs[1]],[3,segs[2]]].forEach(d=>{const g=d[1];
  svg.append("g").attr("transform",`translate(${c.x0},0)`).call(d3.axisLeft(g.s).tickValues(c.ticks[d[0]-1]).tickSize(2).tickFormat(c.fmt[d[0]-1])).call(a=>styleAxis(a,{size:9.2,stroke:"#777",noDomain:true}));});
 svg.append("g").attr("transform",`translate(0,${B})`).call(d3.axisBottom(x).tickSize(2)).call(g=>{styleAxis(g,{font:DEJA,size:8.4,stroke:"#666",dw:1.5,fill:"#444"});
   g.select(".domain").attr("d",`M${c.x0},0H${c.x1}`).attr("stroke","#aaa");
   g.selectAll("text").attr("text-anchor","end").attr("dy","0").attr("y",4).attr("x",-2).attr("transform","rotate(-45)");});
 [1126,1176].forEach(yy=>[c.x0,c.x1].forEach(xx=>{svg.append("path").attr("d",`M${xx-4},${yy-.4}l8,-2.2M${xx-4},${yy+2.2}l8,-2.2`).attr("stroke","#555").attr("stroke-width",.8).attr("fill","#fff");}));
 T(c.yl,1151.7,"Content(μg/mg)",{font:DEJA,size:8,fill:"#333",rot:-90});
 T(c.sl,1287,"SCFA",{font:SANS,size:8.5,fill:"#333"});
 svg.append("rect").attr("x",c.lg).attr("y",1082).attr("width",c.x1-c.lg-3).attr("height",21.5).attr("fill","#fff").attr("stroke","#e2e2e2").attr("stroke-width",.8);
 [[c.an,"#2f7fb8",1087.7],[c.bn,"#f5882a",1097]].forEach(d=>{svg.append("rect").attr("x",c.lg+3).attr("y",d[2]-2.5).attr("width",13).attr("height",5).attr("fill",d[1]);T(c.lg+20.5,d[2],d[0],{anchor:"start",font:SANS,size:7.2,fill:"#333"});});
}
const fx=f=>d3.format(f);
brokenBars({names:d1Names,x0:870,x1:1164,xr:[891,1143],a:d1A,b:d1B,aErr:d1AErr,bErr:d1BErr,aLet:d1ALet,bLet:d1BLet,low:[2.01],mid:[3.507,3.905],top:[5.23,8.26],ticks:[[0,1,2],[3.6,3.8],[6,8]],fmt:[fx("d"),fx(".1f"),fx("d")],yl:845,sl:1017,lg:1113,an:"Normal",bn:"Model"});
brokenBars({names:d1Names,x0:1236,x1:1531.4,xr:[1256,1510],a:d3A,b:d3B,aErr:d3AErr,bErr:d3BErr,aLet:d3ALet,bLet:d3BLet,low:[1.43],mid:[1.8,2],top:[5.2,8.4],ticks:[[0,.5,1],[1.9,2],[6,8]],fmt:[fx(".1f"),fx(".1f"),fx("d")],yl:1211.5,sl:1382.6,lg:1484,an:"Model",bn:"SFI"});
brokenBars({names:d5Names,x0:1608,x1:1898,xr:[1627.7,1880],a:d5A,b:d5B,aErr:d5AErr,bErr:d5BErr,low:[.736],mid:[1.31,2.01],top:[5.22,9.14],ticks:[[0,.25,.5],[1.5,1.75,2],[6,8]],fmt:[fx(".2f"),fx(".2f"),fx("d")],yl:1579,sl:1752,lg:1851,an:"Model",bn:"TMZ"});

function stacked(c){
 const rows=c.groups.map((g,i)=>Object.fromEntries([["g",g],...c.keys.map((k,j)=>[k,c.vals[i][j]])]));
 const series=d3.stack().keys(c.keys)(rows);
 const x=d3.scaleBand().domain(c.groups).range(c.xr).paddingInner(.3);
 const y=d3.scaleLinear().domain([0,6]).range([c.base,c.t6]);
 svg.append("g").selectAll("g").data(series).join("g").attr("fill",(d,i)=>stackColors[i]).selectAll("rect").data(d=>d).join("rect")
  .attr("x",d=>x(d.data.g)).attr("width",x.bandwidth()).attr("y",d=>y(d[1])).attr("height",d=>y(d[0])-y(d[1]));
 svg.append("g").attr("transform",`translate(${c.ax},0)`).call(d3.axisLeft(y).tickValues([0,2,4,6]).tickSize(1.5)).call(g=>{styleAxis(g,{size:3.5,stroke:"#999"});g.select(".domain").attr("d",`M0,${c.base}V${c.t6-7}`);});
 svg.append("g").attr("transform",`translate(0,${c.base})`).call(d3.axisBottom(x).tickSize(1.5)).call(g=>{styleAxis(g,{size:3.6,stroke:"#999",dw:1});g.select(".domain").attr("d",`M${c.ax},0H${c.xr[1]+7}`);
  g.selectAll("text").attr("text-anchor","end").attr("dy","0").attr("y",3).attr("x",-1).attr("transform","rotate(-45)");});
 T(c.ax-8,c.base-51,"Content(μg/mg)",{font:SANS,size:3.6,fill:"#444",rot:-90});
 T(c.lx,c.ly,"SCFA",{anchor:"start",font:SANS,size:3.4,fill:"#444"});
 c.keys.forEach((k,i)=>{svg.append("rect").attr("x",c.lx).attr("y",c.ly+2.5+i*5).attr("width",5).attr("height",5).attr("fill",stackColors[i]);
  T(c.lx+6.5,c.ly+5+i*5,k,{anchor:"start",font:SANS,size:3.4,fill:"#444"});});
}
stacked({keys:stackKeys,groups:["Model","Normal"],vals:[stackModel,stackNormal],xr:[966,1014.7],base:1424,t6:1323.7,ax:958.7,lx:1026.6,ly:1350.7});
stacked({keys:stackKeys,groups:["Model","SFI"],vals:[stackModel,stackSFI],xr:[1331,1380],base:1426,t6:1324,ax:1323,lx:1391.7,ly:1352.3});
stacked({keys:stackD5Keys,groups:["Model","TMZ"],vals:[stackModel,stackTMZ],xr:[1699,1748.5],base:1425,t6:1323.7,ax:1692.7,lx:1759.7,ly:1352});

// ---------- E ----------
const eLeft=[[879.3,1021,1155.7,1293,1427,1559.3,1682.5,1824.3],[879,1021,1155.7,1293,1427,1555.7,1686,1824.3],[879.3,1018,1155.7,1290,1427,1555.7,1686,1822.9]];
const eRight=[927.9,1061.8,1195.4,1331.4,1463.2,1596.4,1730,1864.3];
const eTop=[1569.7,1703.3,1836.7], eBottom=[1654,1789.3,1922.7];
const eCaption=[[902.9,"(1)"],[1041.4,"(2)"],[1177,"(3)"],[1311.8,"(4)"],[1446,"(5)"],[1577,"(6)"],[1707.5,"(7)"],[1842.9,"(8)"]];
[eRow1,eRow2,eRow3].forEach((row,ri)=>{
 T(832,[1611,1744,1879][ri],eRowTitles[ri],{size:14,weight:"bold",fill:"#111",rot:-90});
 row.forEach((d,ci)=>{
  const L=eLeft[ri][ci],R=eRight[ci],TT=eTop[ri],Bt=eBottom[ri];
  const y=d3.scaleLinear().domain([-d[6]*.0455,d[6]]).range([Bt,TT]);
  const x=d3.scalePoint().domain(eGroups[ri]).range([L,R]).padding(.6);
  const bw=(R-L)*.227;
  const ticks=eTicks[ri][ci];
  const dec=d3.max(ticks,t=>(String(t).split(".")[1]||"").length);
  svg.append("rect").attr("x",L).attr("y",TT).attr("width",R-L).attr("height",Bt-TT).attr("fill","#fff");
  svg.append("g").selectAll("line").data(ticks).join("line").attr("x1",L).attr("x2",R).attr("y1",t=>y(t)).attr("y2",t=>y(t)).attr("stroke","#efefef").attr("stroke-width",.7);
  eGroups[ri].forEach(g=>svg.append("line").attr("x1",x(g)).attr("x2",x(g)).attr("y1",TT).attr("y2",Bt).attr("stroke","#efefef").attr("stroke-width",.7));
  const swap=eSwapped.some(s=>s[0]===ci&&s[1]===ri);
  const pair=[{g:eGroups[ri][0],m:d[0],lo:d[1],hi:d[2],c:swap?"#46cfd2":"#fb9a94"},{g:eGroups[ri][1],m:d[3],lo:d[4],hi:d[5],c:swap?"#fb9a94":"#46cfd2"}];
  svg.append("g").selectAll("rect").data(pair).join("rect").attr("x",p=>x(p.g)-bw/2).attr("width",bw).attr("y",p=>y(p.m)).attr("height",p=>y(0)-y(p.m)).attr("fill",p=>p.c);
  svg.append("g").selectAll("path").data(pair).join("path").attr("d",p=>`M${x(p.g)},${y(p.lo)}V${y(p.hi)}M${x(p.g)-1},${y(p.lo)}h2M${x(p.g)-1},${y(p.hi)}h2`).attr("stroke","#333").attr("stroke-width",.7).attr("fill","none");
  svg.append("rect").attr("x",L).attr("y",TT).attr("width",R-L).attr("height",Bt-TT).attr("fill","none").attr("stroke","#9a9a9a").attr("stroke-width",.9);
  if(+eP[ri][ci]<.05){const yy=TT+3.4;svg.append("path").attr("d",`M${x(eGroups[ri][0])},${yy}H${x(eGroups[ri][1])}`).attr("stroke","#777").attr("stroke-width",.7);}
  svg.append("g").attr("transform",`translate(${L},0)`).call(d3.axisLeft(y).tickValues(ticks).tickSize(1.5).tickPadding(1.5).tickFormat(d3.format(`.${dec}f`))).call(g=>styleAxis(g,{size:5,stroke:"#666",fill:"#333",noDomain:true}));
  svg.append("g").attr("transform",`translate(0,${Bt})`).call(d3.axisBottom(x).tickSize(1.5)).call(g=>{styleAxis(g,{size:5,stroke:"#666",fill:"#444",noDomain:true});
   g.selectAll("text").attr("text-anchor","end").attr("dy","0").attr("y",3.5).attr("x",-.5).attr("transform","rotate(-45)");});
  const maxlen=d3.max(ticks,t=>d3.format(`.${dec}f`)(t).length);
  T(L-6.2-maxlen*2.8,(TT+Bt)/2-1,"Expression",{font:SANS,size:4.8,fill:"#333",rot:-90});
  const cx=(L+R)/2;
  T(cx,TT-12,eNames[ci],{font:SANS,size:5.2,fill:"#333"});
  T(cx,TT-6,"Pvalue="+eP[ri][ci],{font:SANS,size:5.2,fill:"#333"});
 });
});
eCaption.forEach(d=>T(d[0],1953,d[1],{size:19}));

// ---------- F ----------
(function(){
 const y=d3.scaleLinear().domain([0,10]).range([1145,659.5]);
 const x=d3.scalePoint().domain(fGroups).range([233.7,682]);
 const B=98,SW=6;
 svg.append("g").selectAll("rect").data(fGroups).join("rect").attr("x",d=>x(d)-B/2+SW/2).attr("width",B-SW).attr("y",(d,i)=>y(fMeans[i])+SW/2).attr("height",(d,i)=>1145-y(fMeans[i])-SW/2)
  .attr("fill",(d,i)=>fFill[i]).attr("stroke",(d,i)=>fEdge[i]).attr("stroke-width",SW);
 svg.append("g").selectAll("path").data(fGroups).join("path").attr("d",(d,i)=>`M${x(d)},${y(fMeans[i])}V${y(fUpper[i])}M${x(d)-24},${y(fUpper[i])}h48`).attr("stroke",(d,i)=>fEdge[i]).attr("stroke-width",1.6).attr("fill","none");
 svg.append("g").attr("transform","translate(134,0)").call(d3.axisLeft(y).tickValues(fTicks).tickSize(18).tickSizeOuter(0).tickPadding(5).tickFormat(d3.format("d"))).call(g=>styleAxis(g,{font:SERIF,size:30,weight:"bold",fill:"#111",stroke:"#111",sw:5.5}));
 svg.append("line").attr("x1",116).attr("x2",784).attr("y1",1145).attr("y2",1145).attr("stroke","#111").attr("stroke-width",5.5);
 svg.append("g").attr("transform","translate(0,1145)").call(d3.axisBottom(x).tickSize(19).tickSizeOuter(0).tickPadding(8)).call(g=>{styleAxis(g,{font:SERIF,size:28,weight:"bold",fill:"#111",stroke:"#111",sw:5.5,noDomain:true});});
 svg.append("line").attr("x1",x("Normal")-3).attr("x2",x("Model")+2).attr("y1",755.6).attr("y2",755.6).attr("stroke","#111").attr("stroke-width",6);
 T(306.6,736,"*",{size:34,weight:"bold",fill:"#111"});
 T(51,902.7,"SCFAs/(μg/mg)",{size:32,weight:"bold",fill:"#111",rot:-90});
})();

// ---------- G ----------
(function(){
 const gx=d3.scaleLinear().domain([0,1568]).range([0,760]);
 const gy=d3.scaleLinear().domain([0,1568]).range([1250,1966]);
 const pos={};
 pathways.forEach((n,i)=>pos[n]=[gx(pathwayLayoutX[i]),gy(pathwayLayoutY[i])]);
 metabolites.forEach((n,i)=>pos[n]=[gx(metaLayoutX[i]),gy(metaLayoutY[i])]);
 const draw=(edges,col,w)=>svg.append("g").selectAll("line").data(edges).join("line").attr("x1",e=>pos[e[0]][0]).attr("y1",e=>pos[e[0]][1]).attr("x2",e=>pos[e[1]][0]).attr("y2",e=>pos[e[1]][1]).attr("stroke",col).attr("stroke-width",w);
 draw(faintEdges,"#cff3cf",.8);
 draw([...propLight.map(p=>["Propanoic acid",p]),...otherLight],"#f4a3a3",1);
 draw([...acetStrong.map(p=>["Acetic acid",p]),...propStrong.map(p=>["Propanoic acid",p]),...otherStrong],"#e2252b",1.6);
 svg.append("g").selectAll("circle").data(metabolites).join("circle").attr("cx",n=>pos[n][0]).attr("cy",n=>pos[n][1]).attr("r",8.5).attr("fill","#aec7e8");
 svg.append("g").selectAll("rect").data(pathways).join("rect").attr("x",n=>pos[n][0]-8.5).attr("y",n=>pos[n][1]-8.5).attr("width",17).attr("height",17).attr("fill","#1f77b4").attr("stroke","#aec7e8").attr("stroke-width",.6);
 pathways.forEach(n=>T(pos[n][0]+20.7,pos[n][1]-21.8,n,{size:14,fill:"#333"}));
 metabolites.forEach(n=>T(pos[n][0]+20.7,pos[n][1]-20.5,n,{size:14,fill:"#333"}));
 svg.append("circle").attr("cx",654).attr("cy",1271.5).attr("r",5.5).attr("fill","#aec7e8");
 svg.append("rect").attr("x",649).attr("y",1281).attr("width",11).attr("height",11).attr("fill","#1f77b4");
 T(664.6,1271.5,"metabolite",{anchor:"start",size:12,fill:"#aec7e8"});
 T(664.6,1286.5,"pathway",{anchor:"start",size:12,fill:"#3f8cc4"});
})();
</script></body></html>
